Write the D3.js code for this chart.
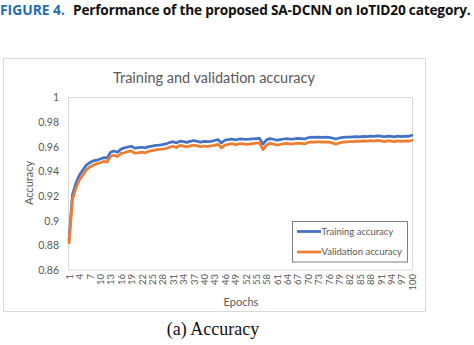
<!DOCTYPE html>
<html>
<head>
<meta charset="utf-8">
<script src="https://cdn.jsdelivr.net/npm/d3@7"></script>
<style>
  html, body { margin: 0; padding: 0; background: #fff; }
  svg { display: block; }
</style>
</head>
<body>
<svg id="chart" width="474" height="345"></svg>
<script>
// ---- data ----
const epochs = d3.range(1, 101);
const trainingAccuracy = [
  0.884, 0.921, 0.9305, 0.937, 0.941, 0.945, 0.947, 0.9485, 0.949, 0.950,
  0.951, 0.9508, 0.9555, 0.9565, 0.9555, 0.958, 0.959, 0.9597, 0.9603, 0.9588,
  0.9592, 0.9595, 0.959, 0.960, 0.9605, 0.961, 0.9612, 0.9617, 0.9622, 0.9633,
  0.964, 0.963, 0.9645, 0.964, 0.9635, 0.9643, 0.965, 0.9643, 0.9637, 0.9642,
  0.964, 0.9643, 0.965, 0.9657, 0.963, 0.9652, 0.9657, 0.9662, 0.9655, 0.966,
  0.9662, 0.9658, 0.966, 0.9663, 0.9665, 0.9667, 0.962, 0.9655, 0.9665, 0.966,
  0.9652, 0.9657, 0.9662, 0.9665, 0.966, 0.9663, 0.9667, 0.9665, 0.9662, 0.9672,
  0.9677, 0.9675, 0.9678, 0.9675, 0.9677, 0.9675, 0.967, 0.9662, 0.967, 0.9675,
  0.9677, 0.9678, 0.968, 0.9682, 0.968, 0.9684, 0.9682, 0.9686, 0.9684, 0.9688,
  0.9685, 0.968, 0.9686, 0.9683, 0.9679, 0.9685, 0.9682, 0.9685, 0.9683, 0.9692
];
const validationAccuracy = [
  0.882, 0.917, 0.9265, 0.933, 0.937, 0.941, 0.9435, 0.945, 0.946, 0.947,
  0.948, 0.9475, 0.9522, 0.953, 0.952, 0.9545, 0.955, 0.956, 0.9565, 0.9548,
  0.955, 0.9555, 0.955, 0.9562, 0.9568, 0.9573, 0.9577, 0.958, 0.9585, 0.9595,
  0.9603, 0.9593, 0.961, 0.9604, 0.9598, 0.9607, 0.9612, 0.9606, 0.9599, 0.9605,
  0.9603, 0.9607, 0.961, 0.962, 0.959, 0.9612, 0.9618, 0.9624, 0.9615, 0.9622,
  0.9624, 0.9619, 0.9621, 0.9625, 0.9628, 0.963, 0.9576, 0.9612, 0.9627, 0.962,
  0.9613, 0.9618, 0.9624, 0.9627, 0.962, 0.9624, 0.9628, 0.9626, 0.9622, 0.9634,
  0.9639, 0.9636, 0.964, 0.9637, 0.9639, 0.9636, 0.963, 0.962, 0.963, 0.9636,
  0.9638, 0.964, 0.9641, 0.9644, 0.9642, 0.9646, 0.9644, 0.9648, 0.9645, 0.965,
  0.9647, 0.9641, 0.9648, 0.9645, 0.964, 0.9646, 0.9643, 0.9646, 0.9644, 0.9652
];
const yTicks = [0.86, 0.88, 0.9, 0.92, 0.94, 0.96, 0.98, 1];
const xTickEpochs = epochs.filter(e => (e - 1) % 3 === 0);
const seriesNames = ["Training accuracy", "Validation accuracy"];
const seriesColors = ["#4472C4", "#ED7D31"];

// ---- drawing ----
const svg = d3.select("#chart");
const font = "Lato, 'Open Sans', sans-serif";
const headFont = "'Open Sans', 'Noto Sans', sans-serif";
const grey = "#595959";

// header: two texts, each sized to fit its available width
function fitText(sel, maxW, baseSize) {
  sel.attr("font-size", baseSize);
  const w = sel.node().getComputedTextLength();
  if (w > maxW) sel.attr("font-size", baseSize * maxW / w);
}
const h1 = svg.append("text").attr("x", 0).attr("y", 15)
  .attr("font-family", headFont).attr("font-weight", "bold").attr("fill", "#1f6db3")
  .text("FIGURE 4.");
fitText(h1, 65, 14);
const h2 = svg.append("text").attr("x", 73).attr("y", 15)
  .attr("font-family", headFont).attr("font-weight", "bold").attr("fill", "#111")
  .attr("letter-spacing", -0.2)
  .text("Performance of the proposed SA-DCNN on IoTID20 category.");
fitText(h2, 398, 14);

// chart area frame
svg.append("rect").attr("x", 3.5).attr("y", 58.5).attr("width", 422).attr("height", 253)
  .attr("fill", "#fff").attr("stroke", "#d9d9d9").attr("stroke-width", 1);

const x = d3.scalePoint().domain(epochs).range([69, 412]);
const y = d3.scaleLinear().domain([0.86, 1]).range([270, 97.3]);

// plot area border
svg.append("rect").attr("x", 68.5).attr("y", 97.5).attr("width", 344).attr("height", 172.5)
  .attr("fill", "none").attr("stroke", "#d9d9d9").attr("stroke-width", 1);

// title
svg.append("text").attr("x", 214).attr("y", 83).attr("text-anchor", "middle")
  .attr("font-family", font).attr("font-size", 14.5).attr("fill", grey)
  .text("Training and validation accuracy");

// y axis
const yAxis = svg.append("g").attr("transform", "translate(68,0)")
  .call(d3.axisLeft(y).tickValues(yTicks).tickSize(0).tickPadding(9)
    .tickFormat(d => d3.format("~g")(d)));
yAxis.select(".domain").remove();
yAxis.selectAll("text").attr("font-family", font).attr("font-size", 10.5).attr("fill", grey);

// x axis
const xAxis = svg.append("g").attr("transform", "translate(0,270)")
  .call(d3.axisBottom(x).tickValues(xTickEpochs).tickSize(0).tickPadding(0));
xAxis.select(".domain").remove();
xAxis.selectAll("text")
  .attr("font-family", font).attr("font-size", 9.5).attr("fill", grey)
  .attr("text-anchor", "end").attr("dy", "0.35em")
  .attr("transform", "translate(0,4) rotate(-90)")
  .attr("x", 0).attr("y", 0);

// axis titles
svg.append("text").attr("transform", "translate(33,183) rotate(-90)")
  .attr("text-anchor", "middle").attr("font-family", font).attr("font-size", 11)
  .attr("fill", grey).text("Accuracy");
svg.append("text").attr("x", 241).attr("y", 306).attr("text-anchor", "middle")
  .attr("font-family", font).attr("font-size", 11).attr("fill", grey).text("Epochs");

// lines
const line = d3.line().x((d, i) => x(epochs[i])).y(d => y(d));
[trainingAccuracy, validationAccuracy].forEach((vals, k) => {
  svg.append("path").datum(vals).attr("d", line)
    .attr("fill", "none").attr("stroke", seriesColors[k]).attr("stroke-width", 2.75)
    .attr("stroke-linejoin", "round").attr("stroke-linecap", "round");
});

// legend
const lg = svg.append("g");
lg.append("rect").attr("x", 292.5).attr("y", 221.5).attr("width", 115).attr("height", 40.5)
  .attr("fill", "#fff").attr("stroke", "#7f7f7f").attr("stroke-width", 1);
seriesNames.forEach((name, k) => {
  const yy = 231.5 + k * 20.5;
  lg.append("line").attr("x1", 297).attr("x2", 321).attr("y1", yy).attr("y2", yy)
    .attr("stroke", seriesColors[k]).attr("stroke-width", 2.75);
  lg.append("text").attr("x", 321.5).attr("y", yy).attr("dy", "0.35em")
    .attr("font-family", font).attr("font-size", 9.5).attr("fill", grey).text(name);
});

// caption
svg.append("text").attr("x", 213).attr("y", 335).attr("text-anchor", "middle")
  .attr("font-family", "'Liberation Serif', 'Times New Roman', serif").attr("font-size", 18)
  .attr("fill", "#111").text("(a) Accuracy");
</script>
</body>
</html>
